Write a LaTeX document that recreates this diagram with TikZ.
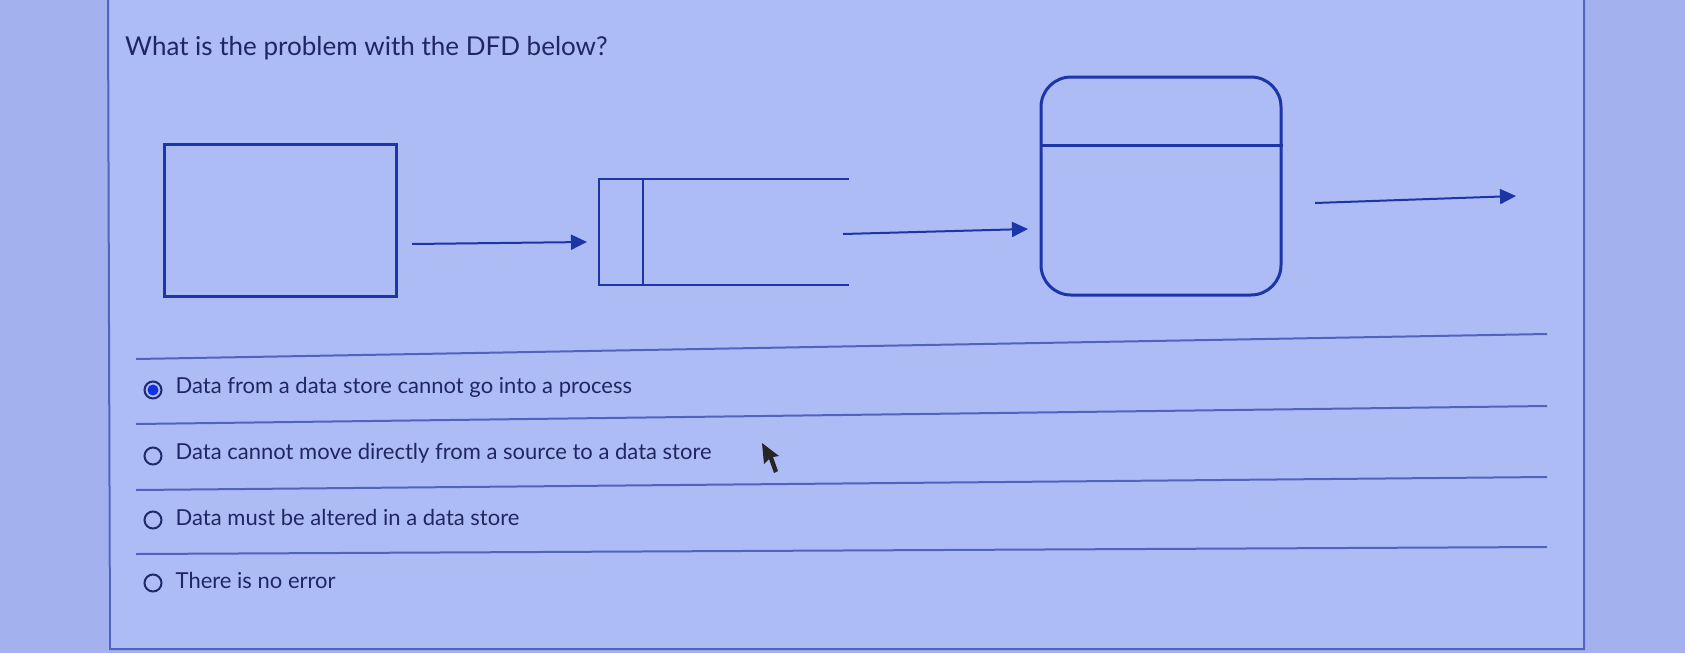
\documentclass[tikz,border=0pt]{standalone}
\usepackage{fontspec}
\setmainfont{Lato}
\usetikzlibrary{arrows.meta,positioning}
\definecolor{bgout}{HTML}{A3B2EE}
\definecolor{bgin}{HTML}{ADBCF5}
\definecolor{dfdblue}{HTML}{1C36A8}
\definecolor{rulecol}{HTML}{5263BE}
\definecolor{txtcol}{HTML}{20275E}
\definecolor{dotcol}{HTML}{1230E0}

\begin{document}
\begin{tikzpicture}[x=1pt,y=-1pt,
  entity/.style={draw=dfdblue,line width=3pt,minimum width=232pt,minimum height=152pt,inner sep=0pt},
  store/.style={minimum width=250pt,minimum height=106pt,inner sep=0pt},
  storeline/.style={draw=dfdblue,line width=2pt},
  proc/.style={draw=dfdblue,line width=3pt,rounded corners=30pt,minimum width=240pt,minimum height=218pt,inner sep=0pt},
  flow/.style={draw=dfdblue,line width=2pt,-{Triangle[length=16pt,width=15pt]}},
  sep/.style={draw=rulecol,line width=2pt},
  radio/.style={circle,draw=txtcol!80!dfdblue,line width=2pt,minimum size=17pt,inner sep=0pt},
  opt/.style={text=txtcol,font=\fontsize{22}{26}\selectfont,inner sep=0pt,anchor=west,yshift=3pt}]
\useasboundingbox (0,0) rectangle (1685,653);
\fill[bgout] (0,0) rectangle (1685,653);
\fill[bgin] (108,0) rectangle (1584,649);
\draw[rulecol,line width=2pt] (108,0) -- (110,649) -- (1584,649) -- (1584,0);
%Question
\node[anchor=west,inner sep=0pt,text=txtcol,font=\fontsize{26}{31}\selectfont] (title) at (125,48) {What is the problem with the DFD below?};
%Shapes
\node[entity] (src) at (280,220) {};
\node[store] (ds) at (724,232) {};
\draw[storeline] (ds.north east) -- (ds.north west) -- (ds.south west) -- (ds.south east);
\draw[storeline] ([xshift=44pt]ds.north west) -- ([xshift=44pt]ds.south west);
\node[proc] (prc) at (1161,186) {};
\draw[storeline,line width=2.5pt] ([yshift=-70pt]prc.north west) -- ([yshift=-70pt]prc.north east);
%Flows
\coordinate (f1a) at (412,244);
\coordinate (f1b) at (587,242);
\coordinate (f2a) at (843,234);
\coordinate (f2b) at (1028,229);
\coordinate (f3a) at (1315,203);
\coordinate (f3b) at (1516,196);
\draw[flow] (f1a) -- (f1b);
\draw[flow] (f2a) -- (f2b);
\draw[flow] (f3a) -- (f3b);
%Rules
\draw[sep] (136,359) -- (1547,334);
\draw[sep] (136,424) -- (1547,406);
\draw[sep] (136,490) -- (1547,477);
\draw[sep] (136,554) -- (1547,547);
%Answers
\node[radio] (r1) at (153,390) {};
\fill[dotcol] (r1) circle (5.5pt);
\node[radio] (r2) at (153,456) {};
\node[radio] (r3) at (153,520) {};
\node[radio] (r4) at (153,583) {};
\node[opt,right=13pt of r1] (o1) {Data from a data store cannot go into a process};
\node[opt,right=13pt of r2] (o2) {Data cannot move directly from a source to a data store};
\node[opt,right=13pt of r3] (o3) {Data must be altered in a data store};
\node[opt,right=13pt of r4] (o4) {There is no error};
%Pointer
\fill[black!85] (762,443) -- (764,464) -- (769,459) -- (774,473) -- (778,471) -- (773,457) -- (779,456) -- cycle;
\end{tikzpicture}
\end{document}
